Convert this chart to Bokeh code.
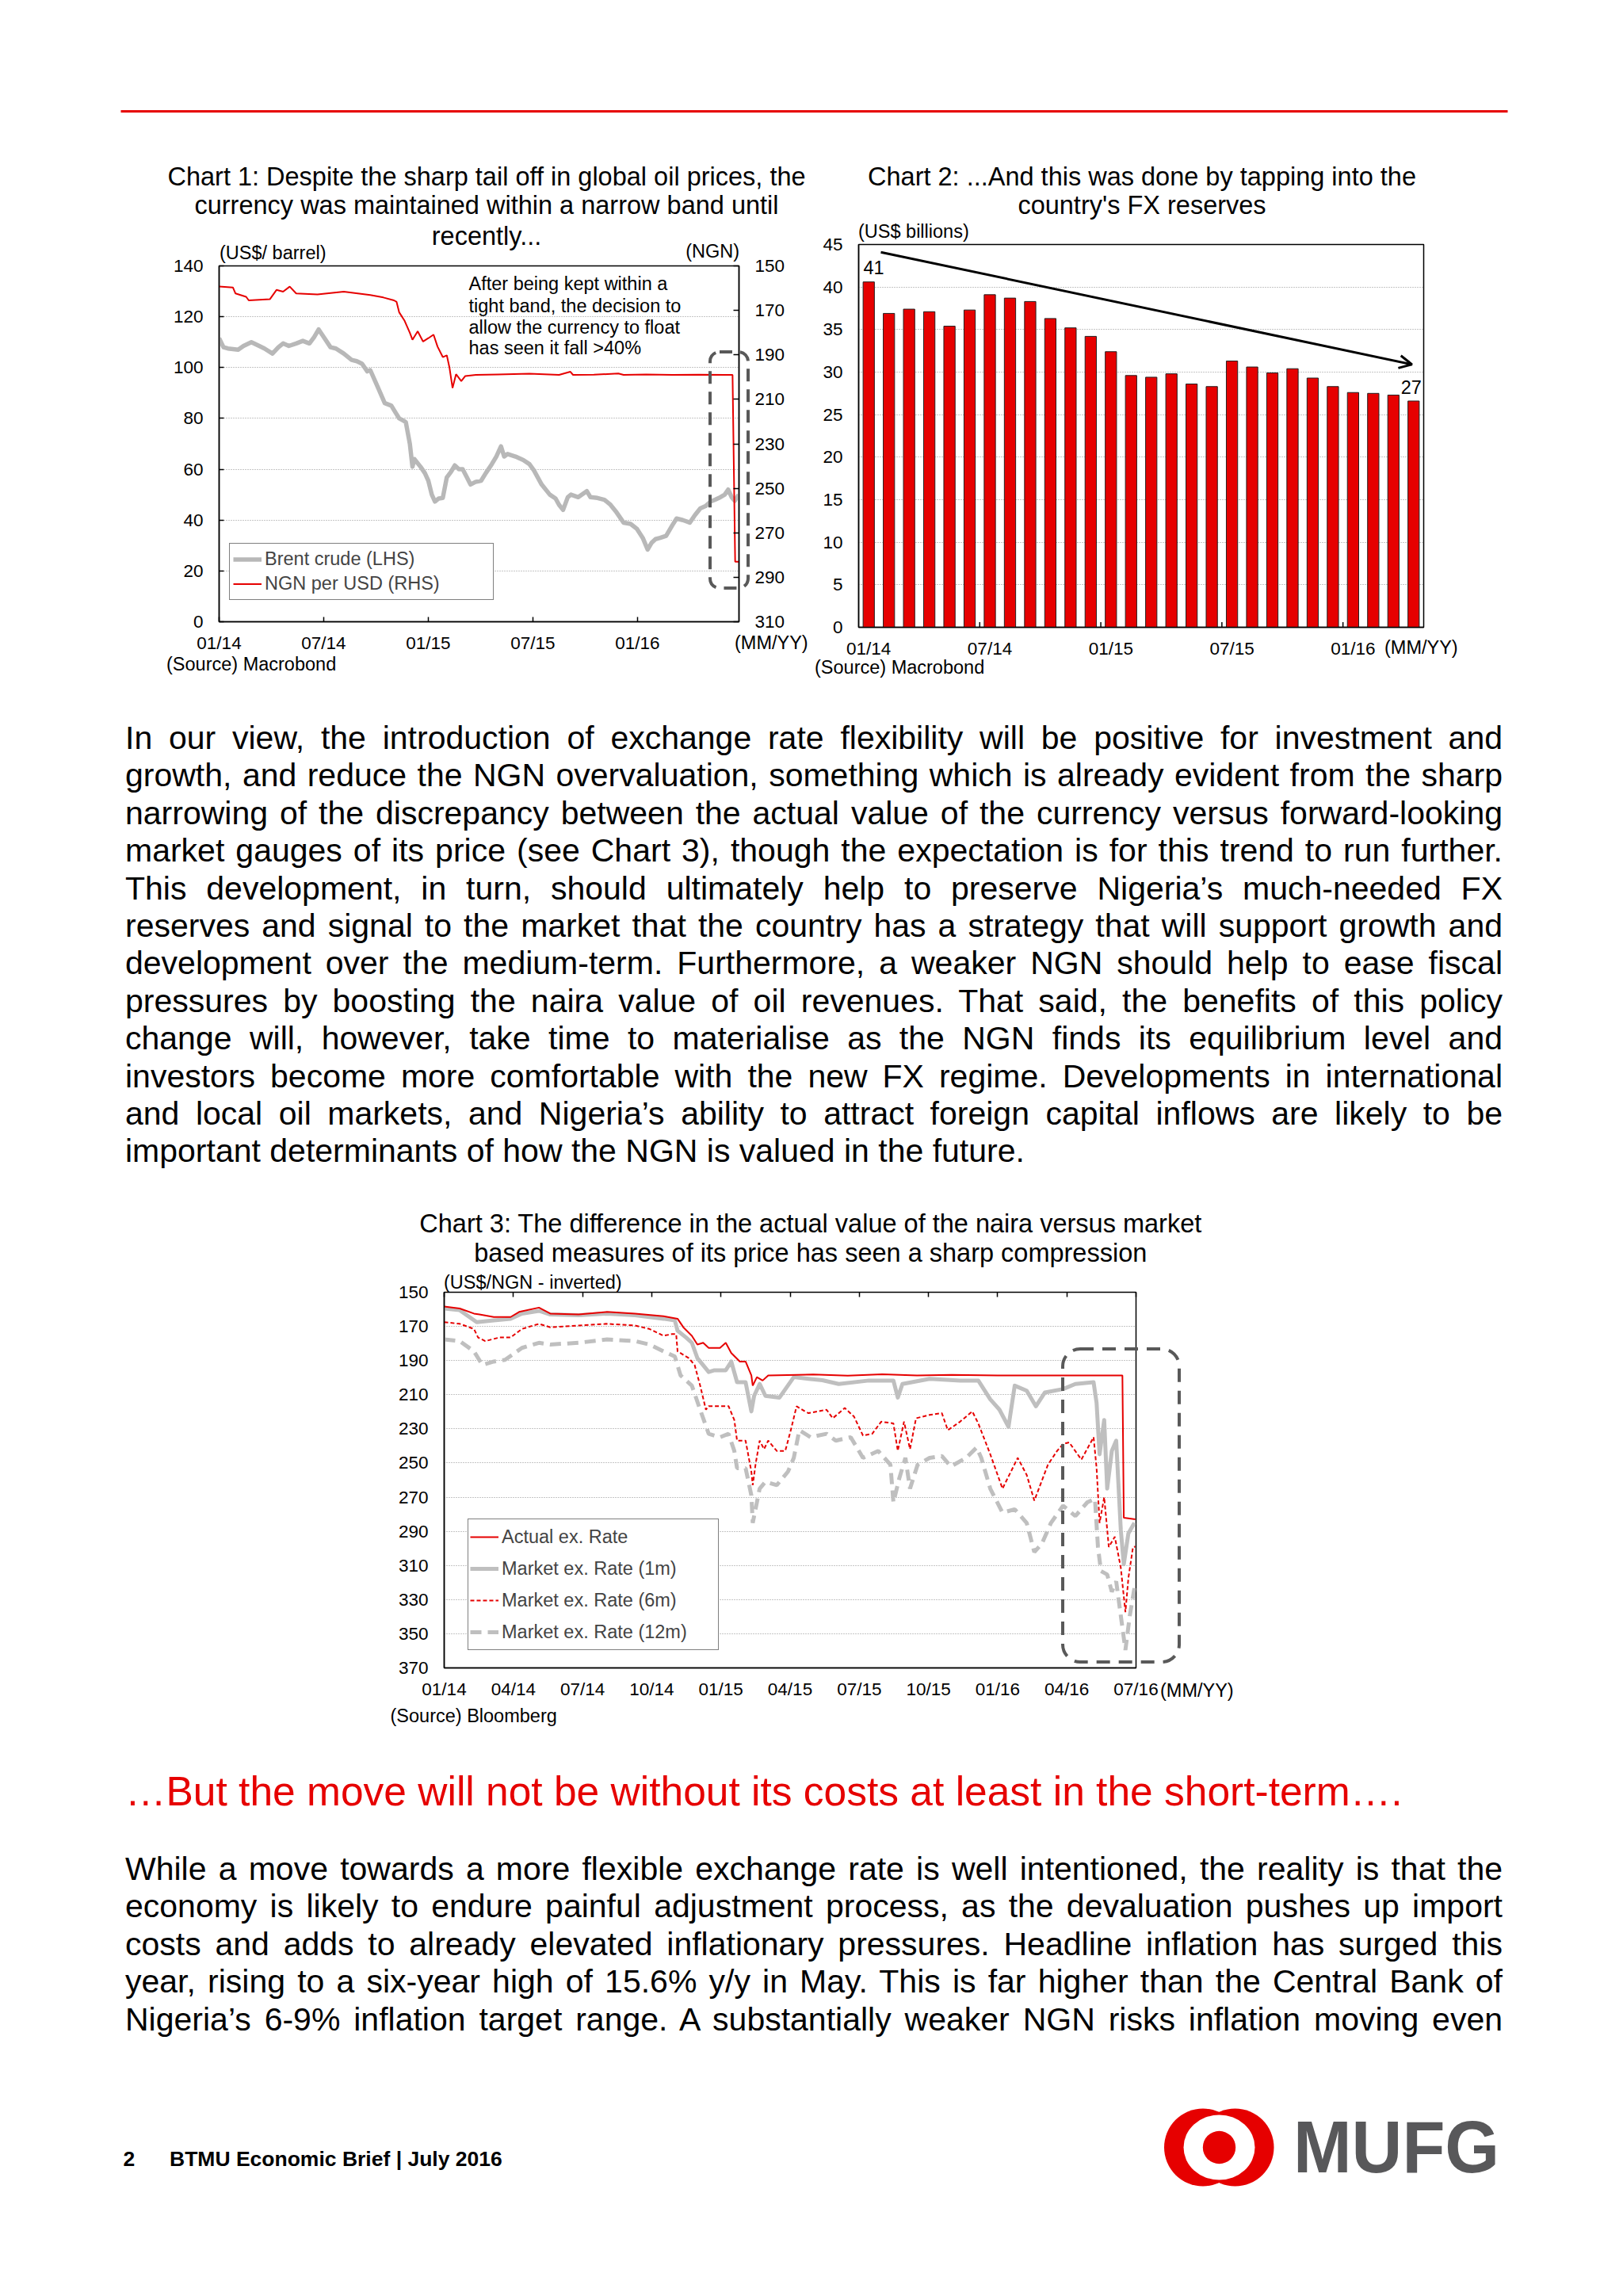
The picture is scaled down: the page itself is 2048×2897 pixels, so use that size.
from bokeh.plotting import figure
from bokeh.models import (Range1d, LinearAxis, FixedTicker, Label, Arrow, OpenHead, Div,
                          Spacer, Legend, LegendItem, GridBox)
from bokeh.layouts import column, row
from bokeh.embed import file_html
from bokeh.resources import INLINE

FONT = "Liberation Sans"
FF = "'Liberation Sans', Arial, sans-serif"
RED = "#e60000"
GREY = "#bfbfbf"
GRID = "#8c8c8c"

# ---------------- Chart 1 data (months since 01/2014) ----------------
c1_title = ["Chart 1: Despite the sharp tail off in global oil prices, the",
            "currency was maintained within a narrow band until",
            "recently..."]
brent_m = [0, 0.25, 0.5, 1.09, 1.4, 1.85, 2.3, 2.6, 3.06, 3.4, 3.67, 4.0, 4.42, 4.8, 5.18, 5.45,
           5.71, 6.0, 6.39, 6.7, 7.15, 7.6, 7.9, 8.2, 8.5, 8.67, 9.12, 9.5, 9.88, 10.1, 10.33,
           10.6, 10.71, 10.94, 11.09, 11.2, 11.55, 11.8, 12.0, 12.2, 12.38, 12.6, 12.83, 13.06,
           13.3, 13.52, 13.75, 13.97, 14.2, 14.42, 14.7, 15.03, 15.3, 15.64, 15.9, 16.17, 16.35,
           16.55, 17.0, 17.45, 17.8, 18.06, 18.5, 18.97, 19.3, 19.5, 19.73, 20.0, 20.18, 20.6,
           21.09, 21.3, 21.7, 22.1, 22.45, 22.8, 23.2, 23.6, 23.97, 24.3, 24.58, 24.8, 25.03,
           25.3, 25.64, 26.0, 26.24, 26.6, 27.0, 27.3, 27.6, 27.9, 28.2, 28.45, 28.67, 29.0,
           29.2, 29.4, 29.58, 29.8]
brent_v = [111.6, 108, 107.5, 107, 108.5, 110, 108.5, 107.5, 105.5, 108, 109.5, 108.5, 109.5,
           110.5, 109.5, 112, 115, 112, 108, 107.5, 105.5, 103, 102.5, 101.5, 98.5, 99, 92, 86,
           85, 82.5, 80, 79, 78.5, 70, 61, 64, 61, 58.5, 55.5, 50, 47.3, 48.5, 48.7, 56.8, 59,
           61.5, 60, 60, 57, 54, 55, 55.5, 58.5, 62, 65, 69, 65, 66, 65, 63.6, 62, 59.5, 54, 50,
           48.5, 46, 44, 49, 50, 49, 51.4, 49, 48.7, 48, 46, 43, 39, 38.5, 36.5, 33, 28.4, 31,
           32.5, 33, 33.8, 38, 40.6, 40, 39, 42, 44.6, 45.5, 47.3, 48, 48.7, 50, 52, 49, 47.6, 50]
ngn_m = [0, 0.79, 0.94, 1.55, 1.7, 2.91, 3.29, 3.67, 4.05, 4.42, 5.64, 7.15, 8.67, 9.42, 10.03,
         10.18, 10.33, 10.64, 10.94, 11.09, 11.39, 11.7, 12.0, 12.3, 12.53, 12.83, 13.06, 13.21,
         13.39, 13.59, 13.89, 14.12, 14.73, 16.0, 17.8, 19.5, 20.15, 20.3, 21.5, 22.9, 23.2,
         24.5, 26.0, 27.5, 29.0, 29.45, 29.6, 29.8]
ngn_v = [159.3, 159.7, 162.4, 163.9, 165.5, 165, 160.8, 161.6, 159.3, 162.4, 162.8, 161.6, 163.1,
         164.2, 165.5, 166.2, 170.9, 174.7, 180.1, 183.2, 179.4, 184, 182.5, 180.9, 186.3, 191,
         190.2, 195.6, 204.9, 198.7, 201.8, 199.5, 199, 198.8, 198.5, 199, 197.6, 199, 198.9,
         198.4, 199, 198.8, 199, 198.9, 199, 199, 283, 283]
c1_xticks = [0, 6, 12, 18, 24]
c1_xlabels = ["01/14", "07/14", "01/15", "07/15", "01/16"]
c1_lticks = [0, 20, 40, 60, 80, 100, 120, 140]
c1_rticks = [150, 170, 190, 210, 230, 250, 270, 290, 310]
c1_note = ["After being kept within a", "tight band, the decision to",
           "allow the currency to float", "has seen it fall >40%"]

# ---------------- Chart 2 data ----------------
c2_title = ["Chart 2: ...And this was done by tapping into the", "country's FX reserves"]
fx_month = list(range(1, 29))
fx_reserves = [40.6, 36.9, 37.4, 37.1, 35.4, 37.3, 39.1, 38.7, 38.3, 36.3, 35.2, 34.2, 32.4,
               29.6, 29.4, 29.8, 28.6, 28.3, 31.3, 30.6, 29.9, 30.4, 29.3, 28.3, 27.6, 27.5,
               27.3, 26.6]
c2_xticks = [1, 7, 13, 19, 25]
c2_xlabels = ["01/14", "07/14", "01/15", "07/15", "01/16"]
c2_yticks = [0, 5, 10, 15, 20, 25, 30, 35, 40, 45]

# ---------------- Chart 3 data ----------------
c3_title = ["Chart 3: The difference in the actual value of the naira versus market",
            "based measures of its price has seen a sharp compression"]
act_m = [0, 0.675, 1.29, 1.53, 2.15, 2.88, 3.25, 4.11, 4.6, 5.83, 7.06, 8.28, 9.51, 10.12, 10.37,
         10.74, 10.98, 11.23, 11.47, 11.96, 12.21, 12.45, 12.82, 13.07, 13.32, 13.38, 13.56,
         13.81, 14.05, 16.0, 17.5, 19.0, 20.5, 22.0, 24.0, 26.0, 28.0, 29.41, 29.47, 29.97]
act_v = [158.4, 159.5, 162.5, 163, 164.5, 164.5, 161.5, 159, 162.5, 163, 161.5, 162.5, 164,
         165.5, 170.5, 175.5, 180.6, 179.6, 182.6, 182.6, 179.6, 185.6, 190.6, 190.6, 198.7,
         204.7, 199.7, 201.7, 198.7, 198.2, 198.9, 198.0, 198.7, 198.4, 198.7, 198.7, 198.7,
         198.7, 282, 283]
m1_m = [0, 0.675, 1.41, 2.15, 2.88, 3.37, 4.11, 4.6, 5.83, 7.06, 8.28, 9.51, 10.0, 10.12, 10.49,
        10.74, 10.98, 11.47, 11.72, 12.21, 12.45, 12.7, 13.07, 13.32, 13.44, 13.68, 13.93, 14.54,
        15.16, 15.8, 16.4, 17.11, 18.42, 19.48, 19.67, 19.87, 21.05, 22.37, 23.16, 23.68, 24.08,
        24.47, 24.74, 25.26, 25.66, 26.05, 26.84, 27.37, 28.16, 28.29, 28.42, 28.62, 28.75,
        28.95, 29.14, 29.34, 29.47, 29.67, 29.93]
m1_v = [159.5, 160.5, 167.5, 166.5, 165.5, 162.5, 160.9, 163, 163.5, 162.5, 163.5, 165.5, 166.5,
        172.5, 176.5, 179.6, 188.6, 196.7, 195.7, 195.7, 190.6, 202.7, 202.7, 219.8, 210.7,
        203.7, 210.7, 211.7, 199.7, 200.7, 201.5, 203.7, 201.7, 201.7, 211.7, 203.7, 200.7,
        201.7, 201.7, 212.7, 218.8, 228.8, 204.7, 207.7, 216.8, 208.7, 206.7, 203.7, 202.7,
        214.8, 244.9, 224.8, 265, 242.9, 236.9, 289.2, 309.3, 291.2, 285.1]
m6_m = [0, 0.675, 1.29, 1.47, 1.78, 2.39, 2.88, 3.37, 4.11, 4.6, 5.83, 7.06, 8.28, 8.9, 9.51,
        9.88, 10.06, 10.12, 10.61, 10.86, 11.1, 11.35, 11.47, 11.96, 12.33, 12.58, 12.7, 13.07,
        13.32, 13.38, 13.5, 13.68, 13.87, 14.05, 14.42, 14.79, 15.03, 15.28, 15.65, 15.8, 16.58,
        16.85, 17.37, 17.77, 18.16, 18.56, 18.95, 19.48, 19.67, 19.94, 20.2, 20.46, 21.05, 21.58,
        21.84, 22.37, 22.9, 23.16, 23.68, 24.21, 24.87, 25.26, 25.59, 26.18, 26.58, 26.84, 27.1,
        27.63, 28.16, 28.29, 28.42, 28.62, 28.82, 29.08, 29.34, 29.54, 29.67, 29.87, 29.97]
m6_v = [167.5, 168.5, 171.5, 176.5, 178.6, 176.5, 176.5, 171.5, 168.5, 170.5, 169.5, 168.5,
        169.5, 171.5, 175.5, 174.5, 174.5, 184.6, 188.6, 192.6, 204.7, 218.8, 216.7, 216.7,
        216.7, 224.8, 236.9, 236.9, 255, 263, 251, 236.9, 241.9, 236.9, 242.9, 242.9, 230.8,
        216.8, 219.8, 220.8, 218.8, 223.8, 217.8, 222.8, 233.9, 232.9, 225.8, 226.8, 242.9,
        225.8, 241.9, 223.8, 221.8, 220.8, 230.8, 225.8, 219.8, 226.8, 244.9, 265, 247, 257,
        272, 251, 242.9, 238.9, 237.9, 248, 234.9, 253, 285.1, 270, 299.2, 293.2, 311.3, 337.4,
        317.3, 299.2, 299]
m12_m = [0, 0.675, 1.29, 1.656, 2.15, 2.64, 3.37, 4.11, 4.6, 5.83, 7.06, 8.28, 8.9, 9.51, 10.0,
         10.25, 10.74, 11.1, 11.47, 11.96, 12.33, 12.58, 12.7, 13.07, 13.32, 13.38, 13.68, 13.93,
         14.42, 14.91, 15.16, 15.4, 15.89, 16.58, 16.98, 17.63, 18.16, 18.82, 19.35, 19.48,
         19.74, 20.0, 20.2, 20.53, 21.05, 21.58, 21.97, 22.63, 23.09, 23.29, 23.68, 24.21, 24.74,
         25.26, 25.59, 25.92, 26.31, 26.84, 27.37, 27.89, 28.22, 28.35, 28.48, 28.75, 28.95,
         29.14, 29.34, 29.54, 29.73, 29.93]
m12_v = [177.6, 178.6, 184.6, 192.6, 190.6, 189.6, 182.6, 179.6, 180.6, 179.6, 177.6, 178.6,
         180.6, 184.6, 187.6, 198.7, 204.7, 218.8, 232.9, 234.9, 232.9, 242.9, 253, 253, 269,
         285.1, 265, 261, 263, 255, 247, 230.8, 234.9, 232.9, 236.9, 234.9, 247, 242.9, 251,
         273, 258.7, 247, 265, 251, 247, 245.9, 252, 247, 240.9, 247, 265, 279.1, 277.1, 285.1,
         302.2, 297.2, 285.1, 275, 281.1, 273, 271, 299.2, 313.3, 315.3, 325.4, 319.3, 339.4,
         359.5, 339.4, 323.3]
c3_xticks = [0, 3, 6, 9, 12, 15, 18, 21, 24, 27, 30]
c3_xlabels = ["01/14", "04/14", "07/14", "10/14", "01/15", "04/15", "07/15", "10/15", "01/16",
              "04/16", "07/16"]
c3_yticks = [150, 170, 190, 210, 230, 250, 270, 290, 310, 330, 350, 370]
c3_series = ["Actual ex. Rate", "Market ex. Rate (1m)", "Market ex. Rate (6m)", "Market ex. Rate (12m)"]

# ---------------- Text ----------------
para1 = [
    "In our view, the introduction of exchange rate flexibility will be positive for investment and",
    "growth, and reduce the NGN overvaluation, something which is already evident from the sharp",
    "narrowing of the discrepancy between the actual value of the currency versus forward-looking",
    "market gauges of its price (see Chart 3), though the expectation is for this trend to run further.",
    "This development, in turn, should ultimately help to preserve Nigeria\u2019s much-needed FX",
    "reserves and signal to the market that the country has a strategy that will support growth and",
    "development over the medium-term. Furthermore, a weaker NGN should help to ease fiscal",
    "pressures by boosting the naira value of oil revenues. That said, the benefits of this policy",
    "change will, however, take time to materialise as the NGN finds its equilibrium level and",
    "investors become more comfortable with the new FX regime. Developments in international",
    "and local oil markets, and Nigeria\u2019s ability to attract foreign capital inflows are likely to be",
    "important determinants of how the NGN is valued in the future.",
]
heading = "\u2026But the move will not be without its costs at least in the short-term\u2026."
para2 = [
    "While a move towards a more flexible exchange rate is well intentioned, the reality is that the",
    "economy is likely to endure painful adjustment process, as the devaluation pushes up import",
    "costs and adds to already elevated inflationary pressures. Headline inflation has surged this",
    "year, rising to a six-year high of 15.6% y/y in May. This is far higher than the Central Bank of",
    "Nigeria\u2019s 6-9% inflation target range. A substantially weaker NGN risks inflation moving even",
]
footer_page = "2"
footer_text = "BTMU Economic Brief | July 2016"
logo_text = "MUFG"


def style_axis(ax, size="22.5px"):
    ax.major_label_text_font = FONT
    ax.major_label_text_font_size = size
    ax.major_label_text_color = "black"
    ax.axis_line_color = "black"
    ax.axis_line_width = 1.5
    ax.major_tick_line_color = "black"
    ax.major_tick_line_width = 1.5
    ax.minor_tick_line_color = None


def lab(p, x, y, text, size="23.5px", align="left", **kw):
    p.add_layout(Label(x=x, y=y, text=text, text_font=FONT, text_font_size=size,
                       text_align=align, text_baseline="middle", text_color="black", **kw))


def base_fig(w, h, xr, yr, left, right, top, bottom):
    p = figure(width=w, height=h, x_range=xr, y_range=yr, output_backend="svg",
               toolbar_location=None, min_border_left=left, min_border_right=right,
               min_border_top=top, min_border_bottom=bottom)
    p.outline_line_color = "black"
    p.outline_line_width = 1.5
    p.xgrid.visible = False
    p.ygrid.grid_line_color = GRID
    p.ygrid.grid_line_dash = "1 2"
    p.ygrid.grid_line_width = 1
    p.background_fill_color = "white"
    p.border_fill_color = "white"
    return p


def style_legend(leg, pad, gh, lw):
    leg.border_line_color = "black"
    leg.border_line_width = 1
    leg.padding = pad
    leg.spacing = 0
    leg.margin = 0
    leg.glyph_width = 36
    leg.glyph_height = gh
    leg.label_height = gh
    leg.label_width = lw
    leg.label_standoff = 4
    leg.label_text_font = FONT
    leg.label_text_font_size = "23.5px"
    leg.background_fill_color = "white"
    leg.background_fill_alpha = 1


# ================= Chart 1 =================
p1 = base_fig(828, 670, Range1d(0, 29.82), Range1d(0, 140), 76, 96, 145, 76)
p1.extra_y_ranges = {"ngn": Range1d(310, 150)}
p1.ygrid.ticker = FixedTicker(ticks=c1_lticks[1:-1])
ax = p1.xaxis[0]
ax.ticker = FixedTicker(ticks=c1_xticks)
ax.major_label_overrides = {t: l for t, l in zip(c1_xticks, c1_xlabels)}
ax.major_tick_in = 6
ax.major_tick_out = 0
ax.major_label_standoff = 14
style_axis(ax)
ay = p1.yaxis[0]
ay.ticker = FixedTicker(ticks=c1_lticks)
ay.major_tick_in = 6
ay.major_tick_out = 0
ay.major_label_standoff = 20
style_axis(ay)
ar = LinearAxis(y_range_name="ngn", ticker=FixedTicker(ticks=c1_rticks))
ar.major_tick_in = 7
ar.major_tick_out = 0
ar.major_label_standoff = 20
style_axis(ar)
p1.add_layout(ar, "right")

r_brent = p1.line(brent_m, brent_v, line_color="#b8b8b8", line_width=5.5, line_join="round")
r_ngn = p1.line(ngn_m, ngn_v, line_color=RED, line_width=2, y_range_name="ngn")

leg1 = Legend(items=[LegendItem(label="Brent crude (LHS)", renderers=[r_brent]),
                     LegendItem(label="NGN per USD (RHS)", renderers=[r_ngn])],
              location=(13, 27))
style_legend(leg1, 4, 31, 284)
p1.add_layout(leg1)
for t, yy in zip(c1_note, [133.1, 124.4, 115.7, 107.6]):
    lab(p1, 14.32, yy, t)

# ================= Chart 2 =================
p2 = base_fig(822, 670, Range1d(0.5, 28.5), Range1d(0, 45), 55, 54, 118, 69)
p2.ygrid.ticker = FixedTicker(ticks=c2_yticks[1:-1])
bx = p2.xaxis[0]
bx.ticker = FixedTicker(ticks=c2_xticks)
bx.major_label_overrides = {t: l for t, l in zip(c2_xticks, c2_xlabels)}
bx.major_tick_in = 0
bx.major_tick_out = 0
bx.major_label_standoff = 14
style_axis(bx)
by = p2.yaxis[0]
by.ticker = FixedTicker(ticks=c2_yticks)
by.major_tick_in = 0
by.major_tick_out = 0
by.major_label_standoff = 20
style_axis(by)
p2.vbar(x=fx_month, top=fx_reserves, width=0.56, fill_color=RED, line_color="#222222",
        line_width=1)
bounds = [t - 0.5 for t in c2_xticks[1:]]
p2.segment(x0=bounds, y0=[0] * len(bounds), x1=bounds, y1=[0.6] * len(bounds),
           line_color="black", line_width=1.5)
p2.add_layout(Arrow(end=OpenHead(size=16, line_width=3, line_color="black"), x_start=1.6,
                    y_start=44.1, x_end=27.92, y_end=30.9, line_width=3, line_color="black"))
lab(p2, 1.25, 42.3, str(round(fx_reserves[0])), align="center")
lab(p2, 27.88, 28.2, str(round(fx_reserves[-1])), align="center")

# ================= Chart 3 =================
p3 = base_fig(1090, 711, Range1d(0, 30), Range1d(370, 150), 80, 137, 153, 84)
p3.ygrid.ticker = FixedTicker(ticks=c3_yticks[1:-1])
cx = p3.xaxis[0]
cx.ticker = FixedTicker(ticks=c3_xticks)
cx.major_label_overrides = {t: l for t, l in zip(c3_xticks, c3_xlabels)}
cx.major_tick_in = 0
cx.major_tick_out = 0
cx.major_label_standoff = 14
style_axis(cx)
cy = p3.yaxis[0]
cy.ticker = FixedTicker(ticks=c3_yticks)
cy.major_tick_in = 0
cy.major_tick_out = 0
cy.major_label_standoff = 20
style_axis(cy)
ctop = LinearAxis(ticker=FixedTicker(ticks=c3_xticks),
                  major_label_overrides={t: "" for t in c3_xticks})
style_axis(ctop)
ctop.major_tick_in = 6
ctop.major_tick_out = 0
ctop.axis_line_color = None
p3.add_layout(ctop, "above")

r12 = p3.line(m12_m, m12_v, line_color=GREY, line_width=5, line_dash="14 8")
r1 = p3.line(m1_m, m1_v, line_color=GREY, line_width=5, line_join="round")
r6 = p3.line(m6_m, m6_v, line_color=RED, line_width=2, line_dash="5 3")
ra = p3.line(act_m, act_v, line_color=RED, line_width=2)

leg3 = Legend(items=[LegendItem(label=s, renderers=[r]) for s, r in
                     zip(c3_series, [ra, r1, r6, r12])], location=(30, 22))
style_legend(leg3, 2, 40, 271)
p3.add_layout(leg3)

# ================= Header & footer figures =================
hdr = figure(width=2048, height=190, x_range=Range1d(0, 2048), y_range=Range1d(190, 0),
             x_axis_location=None, y_axis_location=None, output_backend="svg",
             toolbar_location=None, min_border=0)
hdr.outline_line_color = None
hdr.grid.visible = False
hdr.segment(x0=[152], y0=[140], x1=[1902], y1=[140], line_color=RED, line_width=3)

ftr = figure(width=2048, height=300, x_range=Range1d(0, 2048), y_range=Range1d(2880, 2580),
             x_axis_location=None, y_axis_location=None, output_backend="svg",
             toolbar_location=None, min_border=0)
ftr.outline_line_color = None
ftr.grid.visible = False
ftr.circle(x=[1517.5, 1558], y=[2709, 2709], radius=49, fill_color=RED, line_color=None)
ftr.ellipse(x=[1538], y=[2709], width=90, height=82, fill_color="white", line_color=None)
ftr.circle(x=[1538], y=[2709], radius=20.7, fill_color=RED, line_color=None)


def para_html(lines, justify_last):
    out = ['<div style="width:1738px;">']
    for i, ln in enumerate(lines):
        last = i == len(lines) - 1 and not justify_last
        al = "left" if last else "justify"
        out.append(f'<div style="width:1738px;text-align:{al};text-align-last:{al};">{ln}</div>')
    out.append("</div>")
    return "".join(out)


body_style = {"font-family": FF, "font-size": "41px", "line-height": "47.4px",
              "color": "#000000"}
div1 = Div(text=para_html(para1, False), width=1738, height=569, styles=body_style,
           margin=(0, 0, 0, 0))
div_head = Div(text=heading, width=1800, height=60, margin=(0, 0, 0, 0),
               styles={"font-family": FF, "font-size": "51.5px", "line-height": "60px",
                       "color": RED, "white-space": "nowrap"})
div2 = Div(text=para_html(para2, True), width=1738, height=237, styles=body_style,
           margin=(0, 0, 0, 0))

main = column(
    hdr,
    row(Spacer(width=200, height=670), p1),
    Spacer(height=48),
    row(Spacer(width=158, height=569), div1),
    row(Spacer(width=480, height=711), p3),
    Spacer(height=42),
    row(Spacer(width=158, height=60), div_head),
    Spacer(height=45),
    row(Spacer(width=158, height=237), div2),
    Spacer(height=8),
    ftr,
)

# Chart 2 on its own layer so its frame is not aligned with chart 1's frame
layer2 = column(Spacer(width=10, height=190), row(Spacer(width=1028, height=670), p2))


# ================= Overlay: chart captions outside the plot frames =================
def t_abs(x, y, s, size="23.5px", anchor="left", color="#000000", weight="normal", sx=1.0):
    tx = {"left": "0", "center": "-50%", "right": "-100%"}[anchor]
    tf = f"translate({tx},-50%)" + (f" scaleX({sx})" if sx != 1.0 else "")
    return (f'<div style="position:absolute;left:{x}px;top:{y}px;transform:{tf};'
            f'transform-origin:0 50%;white-space:nowrap;font-family:{FF};font-size:{size};'
            f'line-height:1;color:{color};font-weight:{weight};">{s}</div>')


ov = ['<div style="position:relative;width:2048px;height:2880px;">']
for t, yy in zip(c1_title, [222.5, 259.4, 298.4]):
    ov.append(t_abs(614, yy, t, "32.5px", "center"))
ov.append(t_abs(277, 320, "(US$/ barrel)"))
ov.append(t_abs(933, 318, "(NGN)", anchor="right"))
ov.append(t_abs(927, 812, "(MM/YY)"))
ov.append(t_abs(210, 839, "(Source) Macrobond"))
for t, yy in zip(c2_title, [222.5, 259.4]):
    ov.append(t_abs(1441, yy, t, "32.5px", "center"))
ov.append(t_abs(1083, 293, "(US$ billions)"))
ov.append(t_abs(1747, 818, "(MM/YY)"))
ov.append(t_abs(1028, 842.6, "(Source) Macrobond"))
for t, yy in zip(c3_title, [1543.9, 1580.7]):
    ov.append(t_abs(1022.8, yy, t, "32.5px", "center"))
ov.append(t_abs(560, 1619, "(US$/NGN - inverted)"))
ov.append(t_abs(1464, 2133.6, "(MM/YY)"))
ov.append(t_abs(492.5, 2166, "(Source) Bloomberg"))
ov.append(t_abs(155.5, 2724, footer_page, "26.5px", weight="bold"))
ov.append(t_abs(214, 2724, footer_text, "26.5px", weight="bold"))
ov.append(t_abs(1631.5, 2709.3, logo_text, "93px", color="#58585a", weight="bold", sx=0.95))
ov.append('<svg style="position:absolute;left:0;top:0;" width="2048" height="2880">'
          '<rect x="896" y="444" width="48" height="298" rx="12" ry="12" fill="none" '
          'stroke="#595959" stroke-width="4" stroke-dasharray="16 10"/>'
          '<rect x="1341" y="1702" width="147" height="395" rx="22" ry="22" fill="none" '
          'stroke="#595959" stroke-width="4" stroke-dasharray="17 11"/></svg>')
ov.append("</div>")
overlay = Div(text="".join(ov), width=2048, height=2880, margin=(0, 0, 0, 0))

page = GridBox(children=[(main, 0, 0), (layer2, 0, 0), (overlay, 0, 0)])

open("out.html", "w").write(file_html(page, INLINE))
